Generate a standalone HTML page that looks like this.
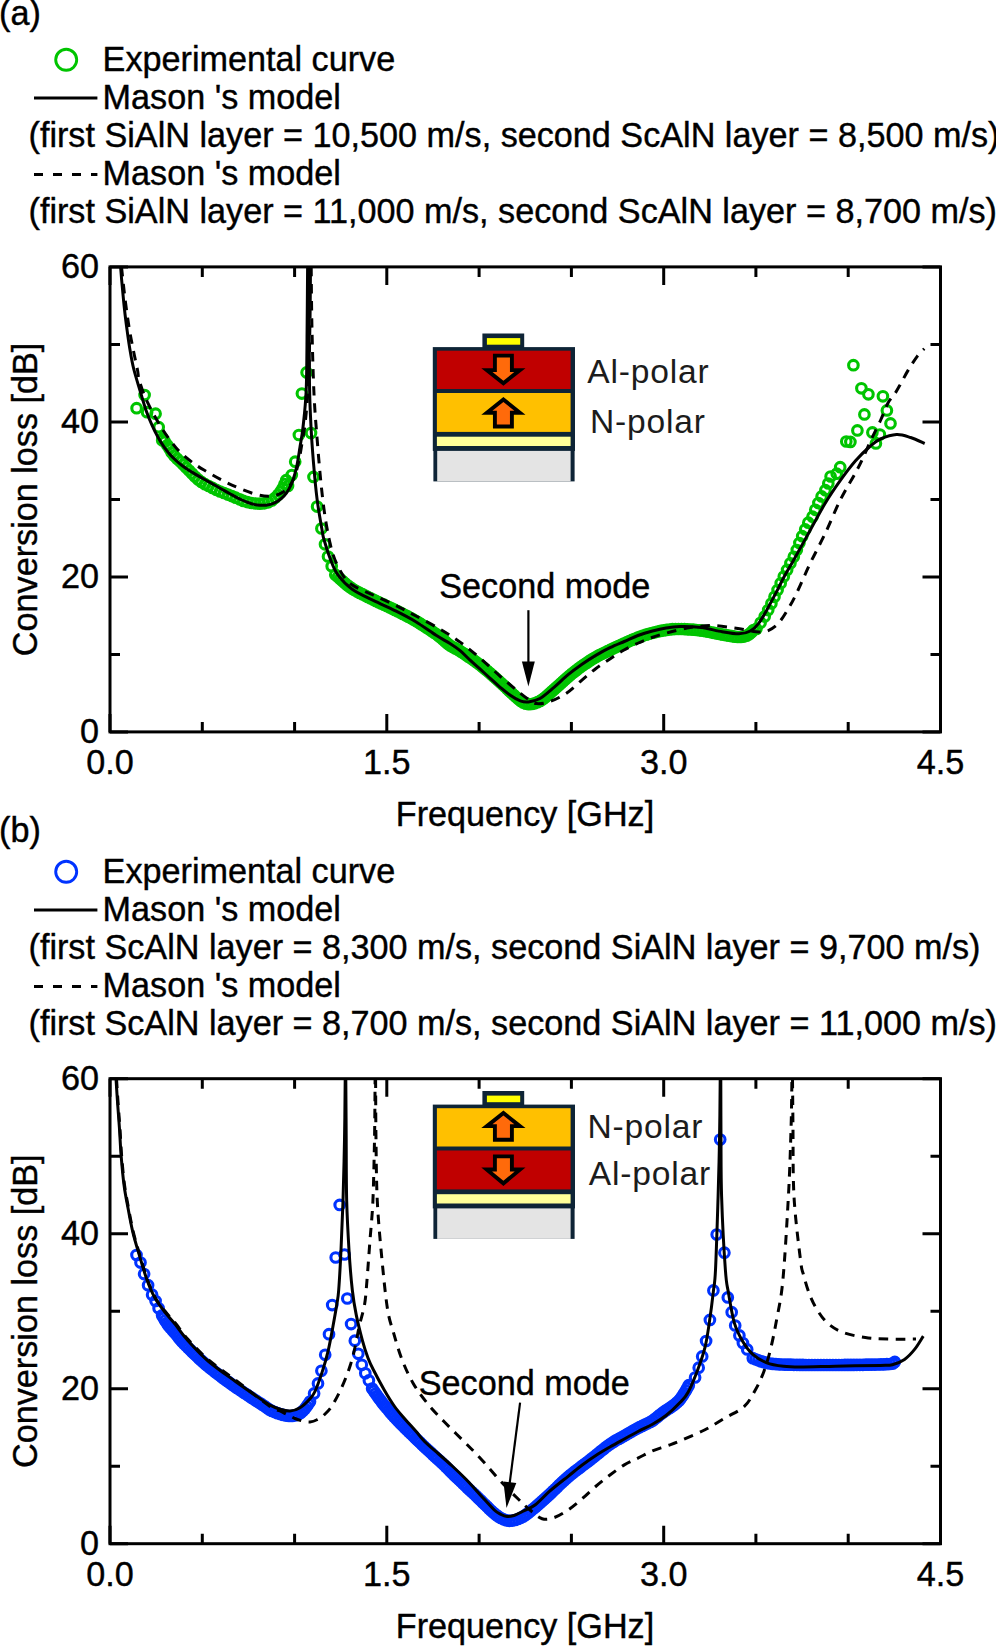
<!DOCTYPE html><html><head><meta charset="utf-8"><style>html,body{margin:0;padding:0;background:#fff;width:996px;height:1646px;overflow:hidden}</style></head><body><svg width="996" height="1646" viewBox="0 0 996 1646" style="display:block">
<rect width="996" height="1646" fill="#fff"/>
<g style="font-family:'Liberation Sans',sans-serif;font-size:34.2px" fill="#000" stroke="#000" stroke-width="0.4">
<text x="-1.0" y="25.3" text-anchor="start" >(a)</text>
<circle cx="66.2" cy="59.8" r="10.5" fill="none" stroke="#00c400" stroke-width="2.9"/>
<text x="102.6" y="71.0" text-anchor="start" >Experimental curve</text>
<path d="M34 98.1H97.4" stroke="#000" stroke-width="3"/>
<text x="102.6" y="109.0" text-anchor="start" >Mason 's model</text>
<text x="28.5" y="147.0" text-anchor="start" >(first SiAlN layer = 10,500 m/s, second ScAlN layer = 8,500 m/s)</text>
<path d="M34 174.4H97.4" stroke="#000" stroke-width="3" stroke-dasharray="9 10"/>
<text x="102.6" y="185.1" text-anchor="start" >Mason 's model</text>
<text x="28.5" y="223.0" text-anchor="start" >(first SiAlN layer = 11,000 m/s, second ScAlN layer = 8,700 m/s)</text>
<text x="-1.0" y="841.9" text-anchor="start" >(b)</text>
<circle cx="66.2" cy="871.8" r="10.5" fill="none" stroke="#0033ff" stroke-width="2.9"/>
<text x="102.6" y="883.0" text-anchor="start" >Experimental curve</text>
<path d="M34 910.1H97.4" stroke="#000" stroke-width="3"/>
<text x="102.6" y="921.0" text-anchor="start" >Mason 's model</text>
<text x="28.5" y="959.0" text-anchor="start" >(first ScAlN layer = 8,300 m/s, second SiAlN layer = 9,700 m/s)</text>
<path d="M34 986.4H97.4" stroke="#000" stroke-width="3" stroke-dasharray="9 10"/>
<text x="102.6" y="997.1" text-anchor="start" >Mason 's model</text>
<text x="28.5" y="1035.0" text-anchor="start" >(first ScAlN layer = 8,700 m/s, second SiAlN layer = 11,000 m/s)</text>
</g>
<g stroke="#000" stroke-width="3" fill="none" stroke-linecap="butt">
<rect x="110.0" y="266.9" width="830.5" height="465.0"/>
<path d="M110.0 731.9V713.9M110.0 266.9V284.9"/>
<path d="M202.3 731.9V721.9M202.3 266.9V276.9"/>
<path d="M294.6 731.9V721.9M294.6 266.9V276.9"/>
<path d="M386.8 731.9V713.9M386.8 266.9V284.9"/>
<path d="M479.1 731.9V721.9M479.1 266.9V276.9"/>
<path d="M571.4 731.9V721.9M571.4 266.9V276.9"/>
<path d="M663.7 731.9V713.9M663.7 266.9V284.9"/>
<path d="M755.9 731.9V721.9M755.9 266.9V276.9"/>
<path d="M848.2 731.9V721.9M848.2 266.9V276.9"/>
<path d="M940.5 731.9V713.9M940.5 266.9V284.9"/>
<path d="M110.0 731.9H128.0M940.5 731.9H922.5"/>
<path d="M110.0 654.4H120.0M940.5 654.4H930.5"/>
<path d="M110.0 576.9H128.0M940.5 576.9H922.5"/>
<path d="M110.0 499.4H120.0M940.5 499.4H930.5"/>
<path d="M110.0 421.9H128.0M940.5 421.9H922.5"/>
<path d="M110.0 344.4H120.0M940.5 344.4H930.5"/>
<path d="M110.0 266.9H128.0M940.5 266.9H922.5"/>
</g>
<g stroke="#000" stroke-width="3" fill="none" stroke-linecap="butt">
<rect x="110.0" y="1078.7" width="830.5" height="465.0"/>
<path d="M110.0 1543.7V1525.7M110.0 1078.7V1096.7"/>
<path d="M202.3 1543.7V1533.7M202.3 1078.7V1088.7"/>
<path d="M294.6 1543.7V1533.7M294.6 1078.7V1088.7"/>
<path d="M386.8 1543.7V1525.7M386.8 1078.7V1096.7"/>
<path d="M479.1 1543.7V1533.7M479.1 1078.7V1088.7"/>
<path d="M571.4 1543.7V1533.7M571.4 1078.7V1088.7"/>
<path d="M663.7 1543.7V1525.7M663.7 1078.7V1096.7"/>
<path d="M755.9 1543.7V1533.7M755.9 1078.7V1088.7"/>
<path d="M848.2 1543.7V1533.7M848.2 1078.7V1088.7"/>
<path d="M940.5 1543.7V1525.7M940.5 1078.7V1096.7"/>
<path d="M110.0 1543.7H128.0M940.5 1543.7H922.5"/>
<path d="M110.0 1466.2H120.0M940.5 1466.2H930.5"/>
<path d="M110.0 1388.7H128.0M940.5 1388.7H922.5"/>
<path d="M110.0 1311.2H120.0M940.5 1311.2H930.5"/>
<path d="M110.0 1233.7H128.0M940.5 1233.7H922.5"/>
<path d="M110.0 1156.2H120.0M940.5 1156.2H930.5"/>
<path d="M110.0 1078.7H128.0M940.5 1078.7H922.5"/>
</g>
<g style="font-family:'Liberation Sans',sans-serif;font-size:34.2px" fill="#000" stroke="#000" stroke-width="0.4">
<text x="99.0" y="743.4" text-anchor="end" >0</text>
<text x="99.0" y="588.4" text-anchor="end" >20</text>
<text x="99.0" y="433.4" text-anchor="end" >40</text>
<text x="99.0" y="278.4" text-anchor="end" >60</text>
<text x="110.0" y="773.7" text-anchor="middle" >0.0</text>
<text x="386.8" y="773.7" text-anchor="middle" >1.5</text>
<text x="663.7" y="773.7" text-anchor="middle" >3.0</text>
<text x="940.5" y="773.7" text-anchor="middle" >4.5</text>
<text x="525.0" y="825.9" text-anchor="middle" >Frequency [GHz]</text>
<text x="0" y="0" text-anchor="middle" transform="translate(37.2 499.4) rotate(-90)">Conversion loss [dB]</text>
<text x="99.0" y="1555.2" text-anchor="end" >0</text>
<text x="99.0" y="1400.2" text-anchor="end" >20</text>
<text x="99.0" y="1245.2" text-anchor="end" >40</text>
<text x="99.0" y="1090.2" text-anchor="end" >60</text>
<text x="110.0" y="1585.5" text-anchor="middle" >0.0</text>
<text x="386.8" y="1585.5" text-anchor="middle" >1.5</text>
<text x="663.7" y="1585.5" text-anchor="middle" >3.0</text>
<text x="940.5" y="1585.5" text-anchor="middle" >4.5</text>
<text x="525.0" y="1637.7" text-anchor="middle" >Frequency [GHz]</text>
<text x="0" y="0" text-anchor="middle" transform="translate(37.2 1311.2) rotate(-90)">Conversion loss [dB]</text>
</g>
<g fill="none" stroke="#00c400" stroke-width="3.1"><circle cx="144.6" cy="395.1" r="4.8"/><circle cx="136.6" cy="408.2" r="4.8"/><circle cx="147.1" cy="412.2" r="4.8"/><circle cx="155.6" cy="413.7" r="4.8"/><circle cx="158.7" cy="427.2" r="4.8"/><circle cx="162.2" cy="440.3" r="4.8"/><circle cx="306.6" cy="372.4" r="4.8"/><circle cx="301.9" cy="393.6" r="4.8"/><circle cx="298.9" cy="435.0" r="4.8"/><circle cx="311.0" cy="433.1" r="4.8"/><circle cx="295.2" cy="461.7" r="4.8"/><circle cx="291.8" cy="475.1" r="4.8"/><circle cx="288.0" cy="486.0" r="4.8"/><circle cx="313.5" cy="476.9" r="4.8"/><circle cx="317.1" cy="506.6" r="4.8"/><circle cx="321.4" cy="528.5" r="4.8"/><circle cx="325.0" cy="544.3" r="4.8"/><circle cx="328.0" cy="556.5" r="4.8"/><circle cx="331.7" cy="566.2" r="4.8"/><circle cx="335.3" cy="574.7" r="4.8"/><circle cx="853.4" cy="365.2" r="4.8"/><circle cx="861.4" cy="388.3" r="4.8"/><circle cx="868.4" cy="394.3" r="4.8"/><circle cx="882.9" cy="396.3" r="4.8"/><circle cx="864.4" cy="414.4" r="4.8"/><circle cx="886.9" cy="410.4" r="4.8"/><circle cx="890.5" cy="423.4" r="4.8"/><circle cx="857.4" cy="430.4" r="4.8"/><circle cx="872.4" cy="432.4" r="4.8"/><circle cx="879.9" cy="434.5" r="4.8"/><circle cx="875.9" cy="443.5" r="4.8"/><circle cx="846.3" cy="441.5" r="4.8"/><circle cx="850.4" cy="441.9" r="4.8"/></g>
<g fill="none" stroke="#00c400" stroke-width="3.1"><circle cx="162.4" cy="438.4" r="4.8"/><circle cx="164.9" cy="441.8" r="4.8"/><circle cx="167.3" cy="445.2" r="4.8"/><circle cx="169.5" cy="448.8" r="4.8"/><circle cx="171.6" cy="452.4" r="4.8"/><circle cx="174.2" cy="455.7" r="4.8"/><circle cx="177.1" cy="458.7" r="4.8"/><circle cx="180.2" cy="461.6" r="4.8"/><circle cx="183.2" cy="464.6" r="4.8"/><circle cx="186.1" cy="467.6" r="4.8"/><circle cx="189.1" cy="470.6" r="4.8"/><circle cx="192.0" cy="473.6" r="4.8"/><circle cx="194.9" cy="476.6" r="4.8"/><circle cx="198.1" cy="479.4" r="4.8"/><circle cx="201.4" cy="481.9" r="4.8"/><circle cx="205.0" cy="484.2" r="4.8"/><circle cx="208.7" cy="486.0" r="4.8"/><circle cx="212.5" cy="487.9" r="4.8"/><circle cx="216.2" cy="489.8" r="4.8"/><circle cx="220.1" cy="491.5" r="4.8"/><circle cx="224.0" cy="493.0" r="4.8"/><circle cx="227.9" cy="494.6" r="4.8"/><circle cx="231.8" cy="496.1" r="4.8"/><circle cx="235.7" cy="497.7" r="4.8"/><circle cx="239.6" cy="499.3" r="4.8"/><circle cx="243.4" cy="500.9" r="4.8"/><circle cx="247.5" cy="502.1" r="4.8"/><circle cx="251.6" cy="503.0" r="4.8"/><circle cx="255.7" cy="503.5" r="4.8"/><circle cx="259.9" cy="503.7" r="4.8"/><circle cx="264.1" cy="503.3" r="4.8"/><circle cx="268.2" cy="502.3" r="4.8"/><circle cx="271.9" cy="500.4" r="4.8"/><circle cx="275.2" cy="497.8" r="4.8"/><circle cx="278.1" cy="494.8" r="4.8"/><circle cx="280.7" cy="491.5" r="4.8"/><circle cx="282.9" cy="487.9" r="4.8"/><circle cx="284.7" cy="484.1" r="4.8"/><circle cx="286.2" cy="480.2" r="4.8"/></g>
<g fill="none" stroke="#00c400" stroke-width="3.1"><circle cx="338.0" cy="577.0" r="4.8"/><circle cx="340.2" cy="579.0" r="4.8"/><circle cx="342.5" cy="581.0" r="4.8"/><circle cx="344.7" cy="583.0" r="4.8"/><circle cx="347.0" cy="584.9" r="4.8"/><circle cx="349.4" cy="586.7" r="4.8"/><circle cx="351.9" cy="588.4" r="4.8"/><circle cx="354.4" cy="590.0" r="4.8"/><circle cx="357.1" cy="591.5" r="4.8"/><circle cx="359.7" cy="592.9" r="4.8"/><circle cx="362.4" cy="594.2" r="4.8"/><circle cx="365.1" cy="595.6" r="4.8"/><circle cx="367.7" cy="596.9" r="4.8"/><circle cx="370.4" cy="598.2" r="4.8"/><circle cx="373.1" cy="599.6" r="4.8"/><circle cx="375.8" cy="600.9" r="4.8"/><circle cx="378.5" cy="602.2" r="4.8"/><circle cx="381.2" cy="603.5" r="4.8"/><circle cx="384.0" cy="604.7" r="4.8"/><circle cx="386.7" cy="606.0" r="4.8"/><circle cx="389.4" cy="607.3" r="4.8"/><circle cx="392.1" cy="608.6" r="4.8"/><circle cx="394.8" cy="609.9" r="4.8"/><circle cx="397.5" cy="611.2" r="4.8"/><circle cx="400.2" cy="612.6" r="4.8"/><circle cx="402.8" cy="613.9" r="4.8"/><circle cx="405.5" cy="615.3" r="4.8"/><circle cx="408.2" cy="616.7" r="4.8"/><circle cx="410.8" cy="618.1" r="4.8"/><circle cx="413.4" cy="619.6" r="4.8"/><circle cx="416.0" cy="621.1" r="4.8"/><circle cx="418.6" cy="622.6" r="4.8"/><circle cx="421.1" cy="624.2" r="4.8"/><circle cx="423.7" cy="625.8" r="4.8"/><circle cx="426.2" cy="627.4" r="4.8"/><circle cx="428.7" cy="629.0" r="4.8"/><circle cx="431.2" cy="630.7" r="4.8"/><circle cx="433.7" cy="632.4" r="4.8"/><circle cx="436.2" cy="634.1" r="4.8"/><circle cx="438.6" cy="635.9" r="4.8"/><circle cx="440.9" cy="637.8" r="4.8"/><circle cx="443.2" cy="639.8" r="4.8"/><circle cx="445.4" cy="641.7" r="4.8"/><circle cx="447.7" cy="643.7" r="4.8"/><circle cx="450.1" cy="645.5" r="4.8"/><circle cx="452.7" cy="647.1" r="4.8"/><circle cx="455.4" cy="648.4" r="4.8"/><circle cx="458.0" cy="649.8" r="4.8"/><circle cx="460.6" cy="651.4" r="4.8"/><circle cx="463.1" cy="653.0" r="4.8"/><circle cx="465.6" cy="654.7" r="4.8"/><circle cx="468.0" cy="656.4" r="4.8"/><circle cx="470.5" cy="658.1" r="4.8"/><circle cx="473.0" cy="659.8" r="4.8"/><circle cx="475.4" cy="661.5" r="4.8"/><circle cx="477.8" cy="663.3" r="4.8"/><circle cx="480.2" cy="665.1" r="4.8"/><circle cx="482.5" cy="667.0" r="4.8"/><circle cx="484.9" cy="668.9" r="4.8"/><circle cx="487.2" cy="670.8" r="4.8"/><circle cx="489.5" cy="672.8" r="4.8"/><circle cx="491.7" cy="674.7" r="4.8"/><circle cx="494.0" cy="676.7" r="4.8"/><circle cx="496.3" cy="678.7" r="4.8"/><circle cx="498.5" cy="680.7" r="4.8"/><circle cx="500.7" cy="682.7" r="4.8"/><circle cx="502.9" cy="684.7" r="4.8"/><circle cx="505.1" cy="686.8" r="4.8"/><circle cx="507.3" cy="688.9" r="4.8"/><circle cx="509.4" cy="691.0" r="4.8"/><circle cx="511.6" cy="693.0" r="4.8"/><circle cx="513.8" cy="695.1" r="4.8"/><circle cx="516.0" cy="697.0" r="4.8"/><circle cx="518.3" cy="699.0" r="4.8"/><circle cx="520.7" cy="700.9" r="4.8"/><circle cx="523.1" cy="702.6" r="4.8"/><circle cx="525.9" cy="703.7" r="4.8"/><circle cx="528.8" cy="704.2" r="4.8"/><circle cx="531.8" cy="704.0" r="4.8"/><circle cx="534.7" cy="703.3" r="4.8"/><circle cx="537.5" cy="702.2" r="4.8"/><circle cx="540.2" cy="700.9" r="4.8"/><circle cx="542.8" cy="699.2" r="4.8"/><circle cx="545.1" cy="697.4" r="4.8"/><circle cx="547.4" cy="695.4" r="4.8"/><circle cx="549.6" cy="693.4" r="4.8"/><circle cx="551.8" cy="691.4" r="4.8"/><circle cx="554.1" cy="689.4" r="4.8"/><circle cx="556.3" cy="687.4" r="4.8"/><circle cx="558.6" cy="685.4" r="4.8"/><circle cx="560.8" cy="683.4" r="4.8"/><circle cx="563.0" cy="681.4" r="4.8"/><circle cx="565.2" cy="679.4" r="4.8"/><circle cx="567.5" cy="677.4" r="4.8"/><circle cx="569.8" cy="675.5" r="4.8"/><circle cx="572.1" cy="673.6" r="4.8"/><circle cx="574.5" cy="671.7" r="4.8"/><circle cx="576.8" cy="669.9" r="4.8"/><circle cx="579.2" cy="668.0" r="4.8"/><circle cx="581.6" cy="666.3" r="4.8"/><circle cx="584.1" cy="664.5" r="4.8"/><circle cx="586.6" cy="662.9" r="4.8"/><circle cx="589.1" cy="661.2" r="4.8"/><circle cx="591.6" cy="659.6" r="4.8"/><circle cx="594.2" cy="658.1" r="4.8"/><circle cx="596.8" cy="656.6" r="4.8"/><circle cx="599.4" cy="655.1" r="4.8"/><circle cx="602.1" cy="653.8" r="4.8"/><circle cx="604.8" cy="652.5" r="4.8"/><circle cx="607.5" cy="651.2" r="4.8"/><circle cx="610.2" cy="649.9" r="4.8"/><circle cx="612.9" cy="648.6" r="4.8"/><circle cx="615.6" cy="647.3" r="4.8"/><circle cx="618.3" cy="646.1" r="4.8"/><circle cx="621.1" cy="644.8" r="4.8"/><circle cx="623.8" cy="643.6" r="4.8"/><circle cx="626.5" cy="642.4" r="4.8"/><circle cx="629.3" cy="641.1" r="4.8"/><circle cx="632.0" cy="639.9" r="4.8"/><circle cx="634.8" cy="638.8" r="4.8"/><circle cx="637.6" cy="637.7" r="4.8"/><circle cx="640.4" cy="636.6" r="4.8"/><circle cx="643.2" cy="635.6" r="4.8"/><circle cx="646.1" cy="634.7" r="4.8"/><circle cx="649.0" cy="633.8" r="4.8"/><circle cx="651.9" cy="633.0" r="4.8"/><circle cx="654.8" cy="632.3" r="4.8"/><circle cx="657.7" cy="631.6" r="4.8"/><circle cx="660.6" cy="630.9" r="4.8"/><circle cx="663.6" cy="630.4" r="4.8"/><circle cx="666.5" cy="629.9" r="4.8"/><circle cx="669.5" cy="629.5" r="4.8"/><circle cx="672.5" cy="629.2" r="4.8"/><circle cx="675.5" cy="629.0" r="4.8"/><circle cx="678.5" cy="629.0" r="4.8"/><circle cx="681.5" cy="629.0" r="4.8"/><circle cx="684.5" cy="629.1" r="4.8"/><circle cx="687.5" cy="629.3" r="4.8"/><circle cx="690.5" cy="629.5" r="4.8"/><circle cx="693.4" cy="629.7" r="4.8"/><circle cx="696.4" cy="630.0" r="4.8"/><circle cx="699.4" cy="630.3" r="4.8"/><circle cx="702.4" cy="630.7" r="4.8"/><circle cx="705.4" cy="631.2" r="4.8"/><circle cx="708.3" cy="631.7" r="4.8"/><circle cx="711.2" cy="632.3" r="4.8"/><circle cx="714.2" cy="632.9" r="4.8"/><circle cx="717.1" cy="633.6" r="4.8"/><circle cx="720.1" cy="634.1" r="4.8"/><circle cx="723.0" cy="634.7" r="4.8"/><circle cx="726.0" cy="635.2" r="4.8"/><circle cx="728.9" cy="635.7" r="4.8"/><circle cx="731.9" cy="636.2" r="4.8"/><circle cx="734.8" cy="636.7" r="4.8"/><circle cx="737.8" cy="637.0" r="4.8"/><circle cx="740.8" cy="637.0" r="4.8"/><circle cx="743.8" cy="636.6" r="4.8"/><circle cx="746.6" cy="635.7" r="4.8"/><circle cx="749.2" cy="634.2" r="4.8"/><circle cx="751.5" cy="632.2" r="4.8"/><circle cx="753.5" cy="630.0" r="4.8"/></g>
<g fill="none" stroke="#00c400" stroke-width="3.1"><circle cx="756.4" cy="628.9" r="4.8"/><circle cx="760.6" cy="622.8" r="4.8"/><circle cx="764.7" cy="616.6" r="4.8"/><circle cx="768.2" cy="610.1" r="4.8"/><circle cx="771.4" cy="603.5" r="4.8"/><circle cx="774.5" cy="596.8" r="4.8"/><circle cx="777.6" cy="590.0" r="4.8"/><circle cx="780.7" cy="583.3" r="4.8"/><circle cx="783.8" cy="576.6" r="4.8"/><circle cx="787.1" cy="569.9" r="4.8"/><circle cx="790.4" cy="563.3" r="4.8"/><circle cx="793.8" cy="556.8" r="4.8"/><circle cx="796.8" cy="550.0" r="4.8"/><circle cx="799.4" cy="543.1" r="4.8"/><circle cx="802.2" cy="536.2" r="4.8"/><circle cx="805.2" cy="529.4" r="4.8"/><circle cx="808.3" cy="522.7" r="4.8"/><circle cx="812.5" cy="516.7" r="4.8"/><circle cx="815.3" cy="509.8" r="4.8"/><circle cx="818.4" cy="503.1" r="4.8"/><circle cx="821.6" cy="496.4" r="4.8"/><circle cx="825.4" cy="490.2" r="4.8"/><circle cx="828.3" cy="483.5" r="4.8"/><circle cx="830.6" cy="476.5" r="4.8"/><circle cx="836.7" cy="473.7" r="4.8"/><circle cx="840.2" cy="467.2" r="4.8"/></g>
<g fill="none" stroke="#0033ff" stroke-width="3.1"><circle cx="136.5" cy="1255.1" r="4.8"/><circle cx="140.5" cy="1262.6" r="4.8"/><circle cx="144.1" cy="1274.1" r="4.8"/><circle cx="148.1" cy="1285.2" r="4.8"/><circle cx="152.1" cy="1294.7" r="4.8"/><circle cx="155.6" cy="1301.0" r="4.8"/><circle cx="158.6" cy="1308.3" r="4.8"/><circle cx="339.7" cy="1204.9" r="4.8"/><circle cx="335.7" cy="1257.5" r="4.8"/><circle cx="344.5" cy="1254.5" r="4.8"/><circle cx="332.2" cy="1305.1" r="4.8"/><circle cx="347.3" cy="1298.5" r="4.8"/><circle cx="329.0" cy="1334.2" r="4.8"/><circle cx="351.1" cy="1324.1" r="4.8"/><circle cx="325.2" cy="1354.8" r="4.8"/><circle cx="354.8" cy="1340.7" r="4.8"/><circle cx="321.4" cy="1370.8" r="4.8"/><circle cx="358.3" cy="1353.8" r="4.8"/><circle cx="318.0" cy="1383.4" r="4.8"/><circle cx="361.8" cy="1364.8" r="4.8"/><circle cx="314.1" cy="1393.4" r="4.8"/><circle cx="365.3" cy="1373.3" r="4.8"/><circle cx="368.9" cy="1380.4" r="4.8"/><circle cx="713.4" cy="1290.4" r="4.8"/><circle cx="709.9" cy="1319.9" r="4.8"/><circle cx="706.1" cy="1341.0" r="4.8"/><circle cx="702.2" cy="1356.4" r="4.8"/><circle cx="698.7" cy="1367.7" r="4.8"/><circle cx="695.1" cy="1377.5" r="4.8"/><circle cx="720.2" cy="1139.6" r="4.8"/><circle cx="716.7" cy="1234.5" r="4.8"/><circle cx="724.4" cy="1252.7" r="4.8"/><circle cx="727.8" cy="1297.4" r="4.8"/><circle cx="731.7" cy="1312.2" r="4.8"/><circle cx="735.2" cy="1325.5" r="4.8"/><circle cx="739.4" cy="1335.4" r="4.8"/><circle cx="742.9" cy="1343.1" r="4.8"/><circle cx="747.2" cy="1349.4" r="4.8"/></g>
<g fill="none" stroke="#0033ff" stroke-width="3.1"><circle cx="162.1" cy="1315.3" r="4.8"/><circle cx="163.6" cy="1317.9" r="4.8"/><circle cx="165.1" cy="1320.5" r="4.8"/><circle cx="166.7" cy="1323.0" r="4.8"/><circle cx="168.4" cy="1325.5" r="4.8"/><circle cx="170.3" cy="1327.8" r="4.8"/><circle cx="172.3" cy="1330.0" r="4.8"/><circle cx="174.3" cy="1332.3" r="4.8"/><circle cx="176.3" cy="1334.6" r="4.8"/><circle cx="178.1" cy="1336.9" r="4.8"/><circle cx="180.0" cy="1339.3" r="4.8"/><circle cx="181.9" cy="1341.5" r="4.8"/><circle cx="184.0" cy="1343.7" r="4.8"/><circle cx="186.1" cy="1345.8" r="4.8"/><circle cx="188.2" cy="1348.0" r="4.8"/><circle cx="190.4" cy="1350.1" r="4.8"/><circle cx="192.5" cy="1352.2" r="4.8"/><circle cx="194.7" cy="1354.2" r="4.8"/><circle cx="196.9" cy="1356.3" r="4.8"/><circle cx="199.0" cy="1358.4" r="4.8"/><circle cx="201.3" cy="1360.4" r="4.8"/><circle cx="203.5" cy="1362.4" r="4.8"/><circle cx="205.7" cy="1364.4" r="4.8"/><circle cx="208.0" cy="1366.3" r="4.8"/><circle cx="210.3" cy="1368.2" r="4.8"/><circle cx="212.7" cy="1370.1" r="4.8"/><circle cx="215.0" cy="1372.0" r="4.8"/><circle cx="217.4" cy="1373.8" r="4.8"/><circle cx="219.8" cy="1375.6" r="4.8"/><circle cx="222.2" cy="1377.4" r="4.8"/><circle cx="224.6" cy="1379.2" r="4.8"/><circle cx="227.0" cy="1381.0" r="4.8"/><circle cx="229.5" cy="1382.7" r="4.8"/><circle cx="231.9" cy="1384.5" r="4.8"/><circle cx="234.4" cy="1386.2" r="4.8"/><circle cx="236.8" cy="1387.9" r="4.8"/><circle cx="239.3" cy="1389.6" r="4.8"/><circle cx="241.8" cy="1391.3" r="4.8"/><circle cx="244.3" cy="1393.0" r="4.8"/><circle cx="246.8" cy="1394.6" r="4.8"/><circle cx="249.3" cy="1396.3" r="4.8"/><circle cx="251.8" cy="1397.9" r="4.8"/><circle cx="254.3" cy="1399.5" r="4.8"/><circle cx="256.8" cy="1401.2" r="4.8"/><circle cx="259.4" cy="1402.8" r="4.8"/><circle cx="261.9" cy="1404.4" r="4.8"/><circle cx="264.4" cy="1406.1" r="4.8"/><circle cx="266.8" cy="1407.8" r="4.8"/><circle cx="269.2" cy="1409.6" r="4.8"/><circle cx="271.9" cy="1410.9" r="4.8"/><circle cx="274.7" cy="1412.1" r="4.8"/><circle cx="277.5" cy="1413.2" r="4.8"/><circle cx="280.3" cy="1414.1" r="4.8"/><circle cx="283.2" cy="1414.9" r="4.8"/><circle cx="286.1" cy="1415.6" r="4.8"/><circle cx="289.1" cy="1416.0" r="4.8"/><circle cx="292.1" cy="1415.9" r="4.8"/><circle cx="295.0" cy="1415.4" r="4.8"/><circle cx="297.9" cy="1414.5" r="4.8"/><circle cx="300.6" cy="1413.1" r="4.8"/><circle cx="302.8" cy="1411.1" r="4.8"/><circle cx="304.8" cy="1408.9" r="4.8"/><circle cx="306.6" cy="1406.5" r="4.8"/><circle cx="308.4" cy="1404.1" r="4.8"/><circle cx="310.0" cy="1401.6" r="4.8"/></g>
<g fill="none" stroke="#0033ff" stroke-width="3.1"><circle cx="372.1" cy="1388.6" r="4.8"/><circle cx="373.8" cy="1391.0" r="4.8"/><circle cx="375.6" cy="1393.5" r="4.8"/><circle cx="377.3" cy="1395.9" r="4.8"/><circle cx="379.1" cy="1398.4" r="4.8"/><circle cx="380.9" cy="1400.8" r="4.8"/><circle cx="382.7" cy="1403.2" r="4.8"/><circle cx="384.5" cy="1405.5" r="4.8"/><circle cx="386.4" cy="1407.8" r="4.8"/><circle cx="388.4" cy="1410.1" r="4.8"/><circle cx="390.3" cy="1412.4" r="4.8"/><circle cx="392.3" cy="1414.7" r="4.8"/><circle cx="394.3" cy="1416.9" r="4.8"/><circle cx="396.3" cy="1419.1" r="4.8"/><circle cx="398.4" cy="1421.3" r="4.8"/><circle cx="400.5" cy="1423.5" r="4.8"/><circle cx="402.6" cy="1425.6" r="4.8"/><circle cx="404.7" cy="1427.7" r="4.8"/><circle cx="406.8" cy="1429.8" r="4.8"/><circle cx="409.0" cy="1431.9" r="4.8"/><circle cx="411.2" cy="1434.0" r="4.8"/><circle cx="413.3" cy="1436.1" r="4.8"/><circle cx="415.5" cy="1438.2" r="4.8"/><circle cx="417.6" cy="1440.2" r="4.8"/><circle cx="419.8" cy="1442.3" r="4.8"/><circle cx="422.0" cy="1444.4" r="4.8"/><circle cx="424.1" cy="1446.5" r="4.8"/><circle cx="426.3" cy="1448.5" r="4.8"/><circle cx="428.5" cy="1450.6" r="4.8"/><circle cx="430.7" cy="1452.6" r="4.8"/><circle cx="432.9" cy="1454.7" r="4.8"/><circle cx="435.1" cy="1456.7" r="4.8"/><circle cx="437.3" cy="1458.7" r="4.8"/><circle cx="439.6" cy="1460.7" r="4.8"/><circle cx="441.7" cy="1462.8" r="4.8"/><circle cx="443.9" cy="1464.8" r="4.8"/><circle cx="446.0" cy="1466.9" r="4.8"/><circle cx="448.2" cy="1469.1" r="4.8"/><circle cx="450.3" cy="1471.2" r="4.8"/><circle cx="452.4" cy="1473.3" r="4.8"/><circle cx="454.5" cy="1475.4" r="4.8"/><circle cx="456.7" cy="1477.5" r="4.8"/><circle cx="458.9" cy="1479.6" r="4.8"/><circle cx="461.0" cy="1481.6" r="4.8"/><circle cx="463.2" cy="1483.7" r="4.8"/><circle cx="465.4" cy="1485.8" r="4.8"/><circle cx="467.5" cy="1487.9" r="4.8"/><circle cx="469.7" cy="1489.9" r="4.8"/><circle cx="471.9" cy="1492.0" r="4.8"/><circle cx="474.1" cy="1494.1" r="4.8"/><circle cx="476.2" cy="1496.1" r="4.8"/><circle cx="478.4" cy="1498.2" r="4.8"/><circle cx="480.6" cy="1500.3" r="4.8"/><circle cx="482.7" cy="1502.4" r="4.8"/><circle cx="484.9" cy="1504.5" r="4.8"/><circle cx="487.0" cy="1506.6" r="4.8"/><circle cx="489.1" cy="1508.7" r="4.8"/><circle cx="491.3" cy="1510.8" r="4.8"/><circle cx="493.5" cy="1512.8" r="4.8"/><circle cx="495.9" cy="1514.7" r="4.8"/><circle cx="498.3" cy="1516.4" r="4.8"/><circle cx="500.8" cy="1518.0" r="4.8"/><circle cx="503.5" cy="1519.3" r="4.8"/><circle cx="506.3" cy="1520.3" r="4.8"/><circle cx="509.3" cy="1520.8" r="4.8"/><circle cx="512.3" cy="1520.6" r="4.8"/><circle cx="515.2" cy="1520.0" r="4.8"/><circle cx="518.0" cy="1519.0" r="4.8"/><circle cx="520.8" cy="1517.8" r="4.8"/><circle cx="523.4" cy="1516.4" r="4.8"/><circle cx="525.9" cy="1514.7" r="4.8"/><circle cx="528.3" cy="1512.9" r="4.8"/><circle cx="530.7" cy="1511.0" r="4.8"/><circle cx="533.0" cy="1509.1" r="4.8"/><circle cx="535.3" cy="1507.2" r="4.8"/><circle cx="537.5" cy="1505.2" r="4.8"/><circle cx="539.8" cy="1503.2" r="4.8"/><circle cx="542.0" cy="1501.2" r="4.8"/><circle cx="544.3" cy="1499.2" r="4.8"/><circle cx="546.5" cy="1497.2" r="4.8"/><circle cx="548.7" cy="1495.2" r="4.8"/><circle cx="550.9" cy="1493.2" r="4.8"/><circle cx="553.1" cy="1491.1" r="4.8"/><circle cx="555.3" cy="1489.0" r="4.8"/><circle cx="557.4" cy="1486.9" r="4.8"/><circle cx="559.5" cy="1484.8" r="4.8"/><circle cx="561.7" cy="1482.7" r="4.8"/><circle cx="563.9" cy="1480.7" r="4.8"/><circle cx="566.1" cy="1478.7" r="4.8"/><circle cx="568.4" cy="1476.7" r="4.8"/><circle cx="570.7" cy="1474.8" r="4.8"/><circle cx="573.0" cy="1472.9" r="4.8"/><circle cx="575.4" cy="1471.1" r="4.8"/><circle cx="577.8" cy="1469.3" r="4.8"/><circle cx="580.2" cy="1467.4" r="4.8"/><circle cx="582.6" cy="1465.6" r="4.8"/><circle cx="585.0" cy="1463.8" r="4.8"/><circle cx="587.4" cy="1462.0" r="4.8"/><circle cx="589.7" cy="1460.2" r="4.8"/><circle cx="592.1" cy="1458.3" r="4.8"/><circle cx="594.4" cy="1456.5" r="4.8"/><circle cx="596.8" cy="1454.6" r="4.8"/><circle cx="599.1" cy="1452.7" r="4.8"/><circle cx="601.4" cy="1450.8" r="4.8"/><circle cx="603.8" cy="1448.9" r="4.8"/><circle cx="606.1" cy="1447.1" r="4.8"/><circle cx="608.5" cy="1445.3" r="4.8"/><circle cx="611.0" cy="1443.5" r="4.8"/><circle cx="613.5" cy="1441.9" r="4.8"/><circle cx="616.0" cy="1440.3" r="4.8"/><circle cx="618.7" cy="1438.9" r="4.8"/><circle cx="621.3" cy="1437.5" r="4.8"/><circle cx="623.9" cy="1436.0" r="4.8"/><circle cx="626.5" cy="1434.5" r="4.8"/><circle cx="629.1" cy="1433.0" r="4.8"/><circle cx="631.7" cy="1431.5" r="4.8"/><circle cx="634.3" cy="1430.0" r="4.8"/><circle cx="637.0" cy="1428.6" r="4.8"/><circle cx="639.6" cy="1427.2" r="4.8"/><circle cx="642.3" cy="1425.9" r="4.8"/><circle cx="645.0" cy="1424.6" r="4.8"/><circle cx="647.7" cy="1423.3" r="4.8"/><circle cx="650.4" cy="1421.9" r="4.8"/><circle cx="653.0" cy="1420.4" r="4.8"/><circle cx="655.4" cy="1418.6" r="4.8"/><circle cx="657.7" cy="1416.7" r="4.8"/><circle cx="660.0" cy="1414.8" r="4.8"/><circle cx="662.4" cy="1412.9" r="4.8"/><circle cx="664.8" cy="1411.2" r="4.8"/><circle cx="667.3" cy="1409.5" r="4.8"/><circle cx="669.8" cy="1407.9" r="4.8"/><circle cx="672.3" cy="1406.2" r="4.8"/><circle cx="674.7" cy="1404.4" r="4.8"/><circle cx="677.0" cy="1402.4" r="4.8"/><circle cx="679.2" cy="1400.4" r="4.8"/><circle cx="681.1" cy="1398.1" r="4.8"/><circle cx="682.8" cy="1395.6" r="4.8"/><circle cx="684.4" cy="1393.1" r="4.8"/><circle cx="685.9" cy="1390.5" r="4.8"/><circle cx="687.4" cy="1387.9" r="4.8"/><circle cx="688.8" cy="1385.2" r="4.8"/></g>
<g fill="none" stroke="#0033ff" stroke-width="3.1"><circle cx="752.8" cy="1358.2" r="4.8"/><circle cx="755.6" cy="1359.3" r="4.8"/><circle cx="758.4" cy="1360.3" r="4.8"/><circle cx="761.2" cy="1361.4" r="4.8"/><circle cx="764.1" cy="1362.2" r="4.8"/><circle cx="767.0" cy="1363.0" r="4.8"/><circle cx="770.0" cy="1363.5" r="4.8"/><circle cx="772.9" cy="1363.9" r="4.8"/><circle cx="775.9" cy="1364.1" r="4.8"/><circle cx="778.9" cy="1364.3" r="4.8"/><circle cx="781.9" cy="1364.5" r="4.8"/><circle cx="784.9" cy="1364.6" r="4.8"/><circle cx="787.9" cy="1364.7" r="4.8"/><circle cx="790.9" cy="1364.7" r="4.8"/><circle cx="793.9" cy="1364.8" r="4.8"/><circle cx="796.9" cy="1364.8" r="4.8"/><circle cx="799.9" cy="1364.9" r="4.8"/><circle cx="802.9" cy="1364.9" r="4.8"/><circle cx="805.9" cy="1365.0" r="4.8"/><circle cx="808.9" cy="1365.0" r="4.8"/><circle cx="811.9" cy="1365.0" r="4.8"/><circle cx="814.9" cy="1365.0" r="4.8"/><circle cx="817.9" cy="1365.0" r="4.8"/><circle cx="820.9" cy="1365.0" r="4.8"/><circle cx="823.9" cy="1365.0" r="4.8"/><circle cx="826.9" cy="1365.0" r="4.8"/><circle cx="829.9" cy="1365.0" r="4.8"/><circle cx="832.9" cy="1365.0" r="4.8"/><circle cx="835.9" cy="1365.0" r="4.8"/><circle cx="838.9" cy="1365.0" r="4.8"/><circle cx="841.9" cy="1365.0" r="4.8"/><circle cx="844.9" cy="1364.9" r="4.8"/><circle cx="847.9" cy="1364.9" r="4.8"/><circle cx="850.9" cy="1364.9" r="4.8"/><circle cx="853.9" cy="1364.9" r="4.8"/><circle cx="856.9" cy="1364.8" r="4.8"/><circle cx="859.9" cy="1364.8" r="4.8"/><circle cx="862.9" cy="1364.8" r="4.8"/><circle cx="865.9" cy="1364.7" r="4.8"/><circle cx="868.9" cy="1364.7" r="4.8"/><circle cx="871.9" cy="1364.6" r="4.8"/><circle cx="874.9" cy="1364.6" r="4.8"/><circle cx="877.9" cy="1364.5" r="4.8"/><circle cx="880.9" cy="1364.4" r="4.8"/><circle cx="883.9" cy="1364.3" r="4.8"/><circle cx="886.9" cy="1364.2" r="4.8"/><circle cx="889.9" cy="1364.0" r="4.8"/><circle cx="892.9" cy="1363.6" r="4.8"/><circle cx="894.8" cy="1361.9" r="4.8"/></g>
<path d="M120.6 267.0 C120.9 270.9 121.9 282.9 122.6 290.1 C123.3 297.3 123.8 303.5 124.6 310.2 C125.3 316.9 126.2 323.6 127.1 330.3 C128.0 337.0 128.9 343.8 130.1 350.4 C131.2 357.0 132.3 363.3 134.0 370.0 C135.7 376.7 138.0 383.8 140.0 390.5 C142.0 397.2 144.0 404.4 146.0 410.2 C148.0 416.0 150.0 420.7 152.0 425.2 C154.0 429.7 156.0 433.7 158.0 437.3 C160.0 440.9 162.0 444.0 164.0 446.8 C166.0 449.6 168.0 452.1 170.0 454.4 C172.0 456.7 174.0 458.6 176.0 460.5 C178.0 462.4 180.0 464.0 182.0 465.5 C184.0 467.0 186.0 468.4 188.0 469.7 C190.0 471.0 192.0 472.2 194.0 473.4 C196.0 474.6 198.0 475.8 200.0 476.9 C202.0 478.0 204.0 479.1 206.0 480.2 C208.0 481.3 210.0 482.5 212.0 483.6 C214.0 484.7 216.0 485.9 218.0 487.0 C220.0 488.1 222.0 489.3 224.0 490.4 C226.0 491.5 228.0 492.7 230.0 493.8 C232.0 494.9 234.0 496.1 236.0 497.1 C238.0 498.1 240.0 499.1 242.0 500.0 C244.0 500.9 246.0 501.8 248.0 502.5 C250.0 503.2 252.0 503.9 254.0 504.4 C256.0 504.9 258.0 505.2 260.0 505.3 C262.0 505.4 264.0 505.4 266.0 505.2 C268.0 504.9 270.0 504.5 272.0 503.8 C274.0 503.1 276.0 502.2 278.0 500.9 C280.0 499.6 282.2 498.0 284.0 496.0 C285.8 494.0 287.5 491.7 289.0 489.0 C290.5 486.3 291.7 483.8 293.0 480.0 C294.3 476.2 295.5 472.0 296.7 466.5 C297.9 461.0 298.9 453.7 300.0 447.0 C301.1 440.3 302.1 436.0 303.1 426.5 C304.1 417.0 305.5 406.1 306.2 390.0 C306.9 373.9 306.9 350.5 307.1 330.0 C307.3 309.5 307.5 277.5 307.6 267.0" fill="none" stroke="#000" stroke-width="3.0" stroke-linejoin="round"/>
<path d="M309.0 267.0 C309.0 277.5 309.1 309.5 309.2 330.0 C309.3 350.5 309.3 373.9 309.6 390.0 C309.9 406.1 310.4 414.4 311.0 426.5 C311.6 438.6 312.5 450.8 313.5 462.9 C314.5 475.0 315.7 488.3 317.1 499.4 C318.5 510.5 320.8 522.9 322.0 529.7 C323.2 536.5 322.6 534.8 324.1 540.0 C325.6 545.2 328.8 555.2 331.1 561.1 C333.4 567.0 334.6 570.4 338.1 575.1 C341.6 579.8 346.3 585.0 352.2 589.2 C358.1 593.4 366.3 596.9 373.3 600.4 C380.3 603.9 387.3 606.8 394.3 610.3 C401.3 613.8 408.4 617.3 415.4 621.5 C422.4 625.7 430.7 631.9 436.5 635.6 C442.3 639.3 446.1 641.0 450.0 643.5 C453.9 646.0 456.8 647.9 460.1 650.7 C463.5 653.5 466.8 657.1 470.1 660.2 C473.5 663.3 476.9 666.2 480.2 669.2 C483.5 672.2 486.9 675.3 490.2 678.3 C493.5 681.3 496.8 684.5 500.2 687.3 C503.6 690.1 507.0 693.0 510.3 695.3 C513.6 697.6 517.3 699.8 520.3 700.9 C523.3 702.0 525.1 702.3 528.4 701.9 C531.7 701.5 535.7 700.9 540.0 698.5 C544.3 696.1 549.3 691.4 554.0 687.4 C558.7 683.4 563.4 678.6 568.1 674.7 C572.8 670.8 577.3 667.5 582.0 664.2 C586.7 660.9 591.5 657.9 596.2 655.1 C600.9 652.4 605.3 650.0 610.0 647.7 C614.7 645.4 619.6 643.5 624.3 641.5 C629.0 639.5 633.3 637.2 638.0 635.5 C642.7 633.8 647.8 632.2 652.5 631.0 C657.2 629.8 661.4 628.8 666.0 628.0 C670.6 627.2 674.1 626.6 680.0 626.5 C685.9 626.4 694.1 626.6 701.1 627.5 C708.1 628.4 715.9 630.7 722.2 631.7 C728.5 632.8 734.3 633.9 739.0 633.8 C743.7 633.7 747.0 632.8 750.3 631.0 C753.6 629.2 755.9 626.9 758.7 623.3 C761.5 619.7 763.9 615.1 767.2 609.2 C770.5 603.3 775.6 593.5 778.4 588.1 C781.2 582.7 781.2 582.1 784.0 577.0 C786.8 571.9 790.8 565.3 795.1 557.5 C799.5 549.7 805.1 539.4 810.1 530.4 C815.1 521.4 820.2 511.6 825.2 503.3 C830.2 495.0 835.2 487.7 840.2 480.7 C845.2 473.7 850.3 466.9 855.3 461.1 C860.3 455.3 866.2 449.7 870.4 446.0 C874.6 442.3 876.1 440.9 880.5 439.0 C884.9 437.1 891.5 434.8 896.5 434.5 C901.5 434.2 905.9 436.0 910.6 437.5 C915.3 439.0 922.4 442.5 924.7 443.5" fill="none" stroke="#000" stroke-width="3.0" stroke-linejoin="round"/>
<path d="M116.0 1078.7 C116.3 1083.0 117.1 1096.4 117.7 1104.6 C118.3 1112.8 118.8 1119.0 119.4 1127.7 C120.0 1136.4 120.4 1147.0 121.2 1156.6 C122.0 1166.2 122.9 1176.8 124.1 1185.5 C125.2 1194.2 126.7 1200.9 128.1 1208.6 C129.5 1216.3 131.0 1224.4 132.7 1231.7 C134.4 1239.0 136.1 1244.3 138.5 1252.4 C140.9 1260.5 144.3 1272.6 147.1 1280.2 C149.9 1287.8 152.1 1292.9 155.1 1298.2 C158.1 1303.5 161.8 1308.0 165.1 1312.3 C168.4 1316.6 171.5 1319.7 175.2 1324.3 C178.9 1328.9 181.7 1333.7 187.2 1339.8 C192.7 1345.9 199.9 1354.0 208.1 1361.0 C216.3 1368.0 226.8 1375.2 236.2 1382.0 C245.6 1388.8 258.7 1397.7 264.3 1401.5 C269.9 1405.3 267.4 1403.8 270.0 1405.1 C272.6 1406.4 276.7 1408.3 280.0 1409.3 C283.3 1410.3 286.7 1411.3 290.0 1411.1 C293.3 1410.8 296.6 1409.9 300.0 1407.8 C303.4 1405.7 307.7 1401.3 310.2 1398.5 C312.7 1395.7 313.2 1395.4 315.2 1391.0 C317.2 1386.6 320.0 1378.6 322.2 1371.9 C324.4 1365.2 326.4 1358.4 328.2 1350.6 C330.0 1342.8 331.8 1332.7 333.2 1325.1 C334.6 1317.5 335.8 1310.9 336.7 1305.1 C337.6 1299.2 338.0 1299.2 338.7 1290.0 C339.4 1280.8 340.3 1264.8 341.0 1250.0 C341.7 1235.2 342.4 1219.6 343.0 1201.3 C343.6 1183.0 344.1 1160.4 344.5 1140.0 C344.9 1119.6 345.1 1088.9 345.2 1078.7" fill="none" stroke="#000" stroke-width="3.0" stroke-linejoin="round"/>
<path d="M345.8 1078.7 C345.9 1088.9 346.1 1119.6 346.2 1140.0 C346.3 1160.4 346.2 1183.0 346.7 1201.3 C347.2 1219.6 348.1 1235.2 349.0 1250.0 C349.9 1264.8 351.1 1279.2 352.3 1290.0 C353.5 1300.8 354.6 1306.7 356.3 1315.1 C358.0 1323.5 360.4 1333.0 362.3 1340.2 C364.2 1347.4 366.1 1353.0 368.0 1358.0 C369.9 1363.0 370.8 1364.7 373.5 1370.0 C376.2 1375.3 380.6 1383.6 384.1 1389.7 C387.6 1395.8 391.1 1401.6 394.6 1406.5 C398.1 1411.4 401.6 1415.1 405.1 1419.2 C408.6 1423.3 412.4 1427.3 415.7 1431.1 C419.0 1434.8 421.1 1438.0 424.8 1441.7 C428.5 1445.4 433.5 1449.5 438.1 1453.5 C442.7 1457.5 447.5 1461.7 452.2 1466.0 C456.9 1470.3 461.5 1474.7 466.2 1479.5 C470.9 1484.3 475.6 1489.8 480.3 1494.9 C485.0 1500.0 490.9 1506.7 494.3 1510.0 C497.8 1513.3 498.9 1513.4 501.0 1514.5 C503.1 1515.6 504.8 1516.3 507.0 1516.5 C509.2 1516.7 511.4 1516.3 514.0 1515.5 C516.6 1514.7 519.0 1513.2 522.5 1511.5 C526.0 1509.8 530.4 1508.4 535.0 1505.0 C539.6 1501.6 544.5 1495.7 550.0 1490.9 C555.5 1486.1 562.7 1480.6 568.1 1476.3 C573.5 1472.0 577.5 1468.5 582.2 1465.0 C586.9 1461.5 591.5 1458.2 596.2 1455.2 C600.9 1452.2 605.6 1449.5 610.3 1446.8 C615.0 1444.1 619.6 1441.6 624.3 1439.0 C629.0 1436.4 633.7 1433.8 638.4 1431.3 C643.1 1428.8 647.9 1426.9 652.5 1424.3 C657.1 1421.7 661.4 1419.1 666.0 1415.5 C670.6 1411.9 676.3 1406.4 680.0 1402.5 C683.7 1398.6 685.1 1397.9 688.1 1392.3 C691.1 1386.7 695.2 1376.4 698.0 1368.9 C700.8 1361.4 703.1 1354.9 705.0 1347.3 C706.9 1339.7 707.8 1332.8 709.2 1323.4 C710.6 1314.0 712.4 1300.0 713.4 1291.1 C714.4 1282.2 714.7 1285.8 715.5 1270.0 C716.3 1254.2 717.4 1218.2 718.1 1196.5 C718.8 1174.8 719.1 1159.6 719.5 1140.0 C719.9 1120.4 720.1 1088.9 720.2 1078.7" fill="none" stroke="#000" stroke-width="3.0" stroke-linejoin="round"/>
<path d="M720.8 1078.7 C720.8 1088.9 720.9 1120.4 721.0 1140.0 C721.1 1159.6 720.9 1174.8 721.6 1196.5 C722.3 1218.2 724.2 1253.9 725.4 1270.0 C726.5 1286.1 727.0 1284.1 728.5 1293.0 C730.0 1301.9 732.1 1315.3 734.5 1323.4 C736.9 1331.5 739.9 1336.6 742.9 1341.7 C745.9 1346.8 748.8 1350.8 752.8 1354.3 C756.8 1357.8 761.6 1360.8 766.8 1362.8 C771.9 1364.8 778.2 1365.6 783.7 1366.3 C789.2 1367.0 791.4 1367.0 800.0 1367.0 C808.6 1367.0 821.8 1366.5 835.2 1366.2 C848.6 1365.9 870.9 1365.7 880.4 1365.4 C889.9 1365.2 888.4 1365.7 892.4 1364.7 C896.4 1363.7 900.7 1362.0 904.5 1359.4 C908.3 1356.8 911.9 1352.8 915.0 1348.9 C918.1 1345.0 921.9 1338.2 923.3 1336.1" fill="none" stroke="#000" stroke-width="3.0" stroke-linejoin="round"/>
<path d="M121.5 267.0 C121.9 270.8 123.2 282.8 124.0 290.0 C124.8 297.2 125.6 303.3 126.5 310.0 C127.4 316.7 128.4 323.3 129.5 330.0 C130.6 336.7 132.0 343.3 133.3 350.0 C134.6 356.7 136.5 365.0 137.5 370.0 C138.5 375.0 137.8 375.5 139.1 380.0 C140.4 384.5 142.8 391.6 145.1 397.1 C147.4 402.6 150.4 408.2 153.1 413.2 C155.8 418.2 158.3 422.7 161.2 427.2 C164.0 431.7 167.0 436.1 170.2 440.3 C173.4 444.5 176.5 448.6 180.2 452.3 C183.9 456.0 188.3 459.4 192.3 462.4 C196.3 465.3 198.1 466.6 204.0 470.0 C209.9 473.4 219.1 479.0 227.5 483.0 C235.9 487.0 247.1 491.8 254.6 494.0 C262.1 496.2 267.5 496.7 272.7 496.0 C277.9 495.3 282.4 493.0 286.0 490.0 C289.6 487.0 291.8 483.0 294.0 478.0 C296.2 473.0 297.6 466.3 299.0 460.0 C300.4 453.7 301.4 446.7 302.5 440.0 C303.6 433.3 304.5 430.0 305.5 420.0 C306.5 410.0 307.8 396.7 308.5 380.0 C309.2 363.3 309.7 338.8 310.0 320.0 C310.3 301.2 310.4 275.8 310.5 267.0" fill="none" stroke="#000" stroke-width="3.0" stroke-dasharray="9.5 7.5" stroke-linejoin="round"/>
<path d="M311.2 267.0 C311.3 277.5 311.5 308.5 312.0 330.0 C312.5 351.5 313.2 378.0 314.1 396.1 C315.0 414.2 315.9 423.4 317.1 438.6 C318.3 453.8 319.9 473.0 321.4 487.2 C322.9 501.4 324.3 512.6 326.2 523.7 C328.1 534.8 330.2 545.5 332.9 554.0 C335.6 562.5 339.4 569.5 342.6 574.7 C345.8 579.9 347.2 581.6 352.3 585.0 C357.4 588.4 366.1 591.8 373.0 595.0 C379.9 598.2 387.0 601.1 394.0 604.5 C401.0 607.9 407.3 611.4 415.0 615.5 C422.7 619.6 432.5 624.7 440.0 629.1 C447.5 633.5 453.4 637.2 460.1 642.1 C466.8 647.0 473.5 652.5 480.2 658.2 C486.9 663.9 493.5 670.4 500.2 676.3 C506.9 682.1 515.8 689.6 520.3 693.3 C524.8 697.0 524.6 696.7 527.3 698.4 C530.0 700.1 532.6 703.1 536.4 703.6 C540.1 704.1 544.9 703.3 549.8 701.6 C554.7 699.9 560.6 697.1 566.0 693.5 C571.4 689.9 577.2 684.0 582.2 679.8 C587.2 675.6 591.3 672.0 596.0 668.5 C600.7 665.0 605.6 661.9 610.3 658.8 C615.0 655.7 619.3 652.6 624.0 650.0 C628.7 647.4 633.7 645.1 638.4 643.0 C643.1 640.9 647.3 639.2 652.0 637.5 C656.7 635.8 660.2 634.7 666.5 633.0 C672.8 631.3 682.4 628.7 690.0 627.5 C697.6 626.3 704.6 625.5 712.3 625.6 C720.0 625.7 728.9 627.2 736.2 628.2 C743.5 629.2 750.7 631.2 755.9 631.7 C761.1 632.2 763.5 632.4 767.2 631.0 C771.0 629.6 774.7 627.4 778.4 623.3 C782.1 619.2 786.3 611.9 789.6 606.4 C792.9 600.9 794.7 597.1 798.1 590.0 C801.5 582.9 805.6 572.9 810.1 563.5 C814.6 554.1 820.2 543.9 825.2 533.4 C830.2 522.9 835.2 510.2 840.2 500.2 C845.2 490.1 851.7 479.8 855.3 473.1 C858.9 466.4 859.4 465.5 862.0 460.0 C864.6 454.5 867.9 446.8 871.0 440.0 C874.1 433.2 878.1 425.7 880.9 419.5 C883.7 413.3 885.6 407.4 888.0 403.0 C890.4 398.6 893.3 396.1 895.3 393.0 C897.3 389.9 898.1 388.4 900.2 384.6 C902.4 380.8 905.3 374.9 908.2 370.1 C911.1 365.4 914.7 359.7 917.4 356.1 C920.1 352.6 923.1 350.0 924.3 348.8" fill="none" stroke="#000" stroke-width="3.0" stroke-dasharray="9.5 7.5" stroke-linejoin="round"/>
<path d="M116.5 1078.7 C116.8 1083.0 117.6 1096.4 118.2 1104.6 C118.8 1112.8 119.3 1119.0 119.9 1127.7 C120.5 1136.4 120.9 1147.0 121.7 1156.6 C122.5 1166.2 123.4 1176.8 124.6 1185.5 C125.8 1194.2 127.2 1200.9 128.6 1208.6 C130.0 1216.3 131.5 1224.4 133.2 1231.7 C134.9 1239.0 136.6 1244.3 139.0 1252.4 C141.4 1260.5 144.8 1272.6 147.6 1280.2 C150.4 1287.8 152.6 1292.9 155.6 1298.2 C158.6 1303.5 162.2 1307.8 165.6 1312.0 C168.9 1316.2 172.0 1319.0 175.7 1323.5 C179.4 1328.0 182.2 1332.9 187.7 1339.0 C193.2 1345.1 200.4 1353.0 208.6 1360.0 C216.8 1367.0 226.5 1373.2 236.7 1381.0 C246.9 1388.8 262.8 1401.5 270.0 1406.5 C277.2 1411.5 277.0 1409.6 280.0 1411.0 C283.0 1412.4 285.5 1413.8 288.0 1415.0 C290.5 1416.2 292.6 1417.5 295.0 1418.5 C297.4 1419.5 300.0 1420.4 302.5 1421.0 C305.0 1421.6 307.5 1422.2 310.0 1422.0 C312.5 1421.8 315.2 1420.7 317.5 1419.5 C319.8 1418.3 321.6 1417.3 324.0 1415.0 C326.4 1412.7 329.2 1410.3 332.2 1405.5 C335.2 1400.7 339.2 1393.1 342.2 1386.4 C345.2 1379.7 348.1 1372.2 350.3 1365.3 C352.5 1358.4 354.0 1351.7 355.5 1345.0 C357.0 1338.3 358.0 1331.7 359.5 1325.0 C361.0 1318.3 363.2 1312.5 364.5 1305.0 C365.8 1297.5 366.1 1290.8 367.0 1280.0 C367.9 1269.2 369.0 1253.1 370.0 1240.0 C371.0 1226.9 372.1 1218.0 372.9 1201.3 C373.6 1184.6 374.1 1160.4 374.5 1140.0 C374.9 1119.6 375.0 1088.9 375.1 1078.7" fill="none" stroke="#000" stroke-width="3.0" stroke-dasharray="9.5 7.5" stroke-linejoin="round"/>
<path d="M375.6 1078.7 C375.7 1088.9 375.7 1119.6 376.0 1140.0 C376.3 1160.4 376.3 1181.3 377.3 1201.3 C378.3 1221.3 380.3 1242.0 382.0 1260.0 C383.7 1278.0 385.6 1297.0 387.5 1309.0 C389.4 1321.0 391.0 1323.9 393.4 1332.3 C395.8 1340.7 398.6 1350.8 401.9 1359.3 C405.2 1367.8 408.9 1375.9 413.1 1383.2 C417.3 1390.5 422.1 1396.8 427.2 1403.2 C432.3 1409.6 438.1 1415.4 444.0 1421.5 C449.9 1427.6 456.2 1433.7 462.3 1439.8 C468.4 1445.9 473.8 1451.2 480.3 1458.2 C486.8 1465.2 495.1 1475.3 501.4 1482.1 C507.7 1488.9 513.4 1494.3 518.2 1499.0 C523.0 1503.7 526.0 1506.7 530.0 1510.0 C534.0 1513.3 538.1 1517.4 542.1 1518.7 C546.1 1520.0 549.8 1519.1 554.1 1517.6 C558.4 1516.1 563.4 1513.1 568.1 1509.9 C572.8 1506.8 577.5 1502.7 582.2 1498.7 C586.9 1494.7 591.5 1490.0 596.2 1486.0 C600.9 1482.0 605.6 1478.3 610.3 1474.8 C615.0 1471.3 619.6 1467.7 624.3 1464.9 C629.0 1462.1 633.7 1460.2 638.4 1457.9 C643.1 1455.6 647.8 1452.9 652.5 1450.9 C657.2 1448.9 661.9 1447.7 666.5 1446.0 C671.1 1444.3 673.7 1443.7 680.0 1441.0 C686.3 1438.3 697.0 1433.8 704.5 1430.0 C712.0 1426.2 718.4 1421.9 725.0 1418.0 C731.6 1414.1 739.2 1411.2 744.3 1406.4 C749.4 1401.7 752.3 1395.4 755.6 1389.5 C758.9 1383.6 761.4 1378.2 764.0 1371.2 C766.6 1364.2 768.9 1356.0 771.0 1347.3 C773.1 1338.6 774.7 1330.3 776.7 1319.2 C778.7 1308.1 780.8 1301.4 782.8 1280.9 C784.8 1260.5 787.0 1221.7 788.4 1196.5 C789.8 1171.3 790.4 1149.6 791.0 1130.0 C791.6 1110.4 791.8 1087.2 791.9 1078.7" fill="none" stroke="#000" stroke-width="3.0" stroke-dasharray="9.5 7.5" stroke-linejoin="round"/>
<path d="M792.5 1078.7 C792.6 1087.2 792.8 1110.4 793.0 1130.0 C793.2 1149.6 792.8 1174.8 794.0 1196.5 C795.2 1218.2 798.9 1246.9 800.5 1260.0 C802.1 1273.1 802.1 1269.3 803.6 1275.1 C805.1 1280.9 807.4 1288.8 809.6 1294.6 C811.9 1300.4 814.1 1304.9 817.1 1309.7 C820.1 1314.5 823.4 1319.5 827.7 1323.3 C832.0 1327.1 836.4 1329.9 842.7 1332.3 C849.0 1334.7 857.8 1336.5 865.3 1337.6 C872.8 1338.7 879.4 1338.8 887.9 1339.1 C896.4 1339.3 911.3 1339.1 916.0 1339.1" fill="none" stroke="#000" stroke-width="3.0" stroke-dasharray="9.5 7.5" stroke-linejoin="round"/>
<g style="font-family:'Liberation Sans',sans-serif;font-size:34.2px" fill="#000" stroke="#000" stroke-width="0.4">
<text x="439.3" y="598.4" text-anchor="start" >Second mode</text>
<text x="418.8" y="1395.2" text-anchor="start" >Second mode</text>
</g>
<path d="M528.4 610.2V665" stroke="#000" stroke-width="2.2"/><path d="M521.9 661.4H534.8L528.4 686.5Z" fill="#000"/>
<path d="M520.1 1402.7L509.4 1485.3" stroke="#000" stroke-width="2.2"/>
<path d="M503.4 1481.5L516.3 1483.1L506.5 1508.1Z" fill="#000"/>
<rect x="482.40" y="333.50" width="41.80" height="15.50" fill="#0e2436"/>
<rect x="486.90" y="338.10" width="33.30" height="6.60" fill="#ffff00"/>
<rect x="432.80" y="347.10" width="142.20" height="103.80" fill="#0e2436"/>
<rect x="436.90" y="350.70" width="133.70" height="38.30" fill="#c00000"/>
<rect x="436.90" y="393.00" width="133.70" height="38.90" fill="#ffc000"/>
<rect x="436.90" y="436.70" width="133.70" height="9.30" fill="#ffff99"/>
<rect x="433.40" y="450.00" width="141.20" height="31.40" fill="#0e2436"/>
<rect x="437.20" y="450.90" width="133.40" height="30.50" fill="#e4e4e4"/>
<path d="M503.40 385.70L525.50 368.20L513.85 368.20L513.85 353.70L492.95 353.70L492.95 368.20L481.30 368.20Z" fill="#000"/><path d="M503.40 380.73L514.29 372.10L509.95 372.10L509.95 357.60L496.85 357.60L496.85 372.10L492.51 372.10Z" fill="#ff6a0a"/>
<path d="M503.40 397.00L525.50 414.70L513.85 414.70L513.85 428.40L492.95 428.40L492.95 414.70L481.30 414.70Z" fill="#000"/><path d="M503.40 402.00L514.39 410.80L509.95 410.80L509.95 424.50L496.85 424.50L496.85 410.80L492.41 410.80Z" fill="#ff6a0a"/>
<rect x="482.40" y="1091.00" width="41.80" height="15.50" fill="#0e2436"/>
<rect x="486.90" y="1095.60" width="33.30" height="6.60" fill="#ffff00"/>
<rect x="432.80" y="1104.60" width="142.20" height="103.80" fill="#0e2436"/>
<rect x="436.90" y="1108.20" width="133.70" height="38.30" fill="#ffc000"/>
<rect x="436.90" y="1150.50" width="133.70" height="38.90" fill="#c00000"/>
<rect x="436.90" y="1194.20" width="133.70" height="9.30" fill="#ffff99"/>
<rect x="433.40" y="1207.50" width="141.20" height="31.40" fill="#0e2436"/>
<rect x="437.20" y="1208.40" width="133.40" height="30.50" fill="#e4e4e4"/>
<path d="M503.40 1110.50L525.50 1128.10L513.85 1128.10L513.85 1141.70L492.95 1141.70L492.95 1128.10L481.30 1128.10Z" fill="#000"/><path d="M503.40 1115.49L514.34 1124.20L509.95 1124.20L509.95 1137.80L496.85 1137.80L496.85 1124.20L492.46 1124.20Z" fill="#ff6a0a"/>
<path d="M503.40 1185.90L525.50 1167.50L513.85 1167.50L513.85 1154.40L492.95 1154.40L492.95 1167.50L481.30 1167.50Z" fill="#000"/><path d="M503.40 1180.83L514.72 1171.40L509.95 1171.40L509.95 1158.30L496.85 1158.30L496.85 1171.40L492.08 1171.40Z" fill="#ff6a0a"/>
<g style="font-family:'Liberation Sans',sans-serif;font-size:33.6px;letter-spacing:0.8px" fill="#1c1c1c">
<text x="587.3" y="383.0" text-anchor="start" >Al-polar</text>
<text x="590.0" y="432.5" text-anchor="start" >N-polar</text>
<text x="587.5" y="1137.8" text-anchor="start" >N-polar</text>
<text x="588.8" y="1184.6" text-anchor="start" >Al-polar</text>
</g>
</svg></body></html>
